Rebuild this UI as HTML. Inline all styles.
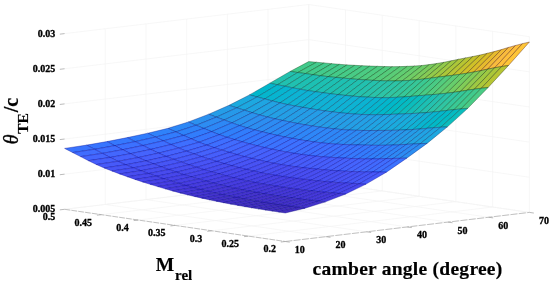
<!DOCTYPE html><html><head><meta charset="utf-8"><title>surface</title><style>html,body{margin:0;padding:0;background:#fff}svg{display:block}text{font-family:"Liberation Serif",serif;font-weight:bold;fill:#000;stroke:#000;stroke-width:0.32px}</style></head><body>
<svg width="550" height="286" viewBox="0 0 550 286">
<rect width="550" height="286" fill="#fff"/>
<line x1="529.40" y1="212.40" x2="529.40" y2="36.70" stroke="#f4f4f4" stroke-width="0.70"/>
<line x1="64.60" y1="209.30" x2="285.30" y2="241.50" stroke="#f4f4f4" stroke-width="0.70"/>
<line x1="64.60" y1="209.30" x2="308.70" y2="180.20" stroke="#f4f4f4" stroke-width="0.70"/>
<line x1="105.28" y1="204.45" x2="105.28" y2="28.75" stroke="#f4f4f4" stroke-width="0.70"/>
<line x1="492.62" y1="207.03" x2="492.62" y2="31.33" stroke="#f4f4f4" stroke-width="0.70"/>
<line x1="105.28" y1="204.45" x2="325.98" y2="236.65" stroke="#f4f4f4" stroke-width="0.70"/>
<line x1="101.38" y1="214.67" x2="345.48" y2="185.57" stroke="#f4f4f4" stroke-width="0.70"/>
<line x1="145.97" y1="199.60" x2="145.97" y2="23.90" stroke="#f4f4f4" stroke-width="0.70"/>
<line x1="455.83" y1="201.67" x2="455.83" y2="25.97" stroke="#f4f4f4" stroke-width="0.70"/>
<line x1="145.97" y1="199.60" x2="366.67" y2="231.80" stroke="#f4f4f4" stroke-width="0.70"/>
<line x1="138.17" y1="220.03" x2="382.27" y2="190.93" stroke="#f4f4f4" stroke-width="0.70"/>
<line x1="186.65" y1="194.75" x2="186.65" y2="19.05" stroke="#f4f4f4" stroke-width="0.70"/>
<line x1="419.05" y1="196.30" x2="419.05" y2="20.60" stroke="#f4f4f4" stroke-width="0.70"/>
<line x1="186.65" y1="194.75" x2="407.35" y2="226.95" stroke="#f4f4f4" stroke-width="0.70"/>
<line x1="174.95" y1="225.40" x2="419.05" y2="196.30" stroke="#f4f4f4" stroke-width="0.70"/>
<line x1="227.33" y1="189.90" x2="227.33" y2="14.20" stroke="#f4f4f4" stroke-width="0.70"/>
<line x1="382.27" y1="190.93" x2="382.27" y2="15.23" stroke="#f4f4f4" stroke-width="0.70"/>
<line x1="227.33" y1="189.90" x2="448.03" y2="222.10" stroke="#f4f4f4" stroke-width="0.70"/>
<line x1="211.73" y1="230.77" x2="455.83" y2="201.67" stroke="#f4f4f4" stroke-width="0.70"/>
<line x1="268.02" y1="185.05" x2="268.02" y2="9.35" stroke="#f4f4f4" stroke-width="0.70"/>
<line x1="345.48" y1="185.57" x2="345.48" y2="9.87" stroke="#f4f4f4" stroke-width="0.70"/>
<line x1="268.02" y1="185.05" x2="488.72" y2="217.25" stroke="#f4f4f4" stroke-width="0.70"/>
<line x1="248.52" y1="236.13" x2="492.62" y2="207.03" stroke="#f4f4f4" stroke-width="0.70"/>
<line x1="308.70" y1="180.20" x2="308.70" y2="4.50" stroke="#f4f4f4" stroke-width="0.70"/>
<line x1="308.70" y1="180.20" x2="308.70" y2="4.50" stroke="#f4f4f4" stroke-width="0.70"/>
<line x1="308.70" y1="180.20" x2="529.40" y2="212.40" stroke="#f4f4f4" stroke-width="0.70"/>
<line x1="285.30" y1="241.50" x2="529.40" y2="212.40" stroke="#f4f4f4" stroke-width="0.70"/>
<line x1="64.60" y1="209.30" x2="308.70" y2="180.20" stroke="#f4f4f4" stroke-width="0.70"/>
<line x1="308.70" y1="180.20" x2="529.40" y2="212.40" stroke="#f4f4f4" stroke-width="0.70"/>
<line x1="64.60" y1="174.16" x2="308.70" y2="145.06" stroke="#f4f4f4" stroke-width="0.70"/>
<line x1="308.70" y1="145.06" x2="529.40" y2="177.26" stroke="#f4f4f4" stroke-width="0.70"/>
<line x1="64.60" y1="139.02" x2="308.70" y2="109.92" stroke="#f4f4f4" stroke-width="0.70"/>
<line x1="308.70" y1="109.92" x2="529.40" y2="142.12" stroke="#f4f4f4" stroke-width="0.70"/>
<line x1="64.60" y1="103.88" x2="308.70" y2="74.78" stroke="#f4f4f4" stroke-width="0.70"/>
<line x1="308.70" y1="74.78" x2="529.40" y2="106.98" stroke="#f4f4f4" stroke-width="0.70"/>
<line x1="64.60" y1="68.74" x2="308.70" y2="39.64" stroke="#f4f4f4" stroke-width="0.70"/>
<line x1="308.70" y1="39.64" x2="529.40" y2="71.84" stroke="#f4f4f4" stroke-width="0.70"/>
<line x1="64.60" y1="33.60" x2="308.70" y2="4.50" stroke="#f4f4f4" stroke-width="0.70"/>
<line x1="308.70" y1="4.50" x2="529.40" y2="36.70" stroke="#f4f4f4" stroke-width="0.70"/>
<line x1="64.60" y1="209.30" x2="285.30" y2="241.50" stroke="#b4b4b4" stroke-width="0.80" stroke-dasharray="5.7 1.2"/>
<line x1="285.30" y1="241.50" x2="529.40" y2="212.40" stroke="#b4b4b4" stroke-width="0.80" stroke-dasharray="7 1.4"/>
<g stroke-opacity="0.6" stroke-width="0.58" stroke-linejoin="round">
<polygon points="290.07,71.48 308.70,61.60 316.44,62.25 297.75,72.52" fill="#41ca8c" stroke="#003000"/>
<polygon points="297.75,72.52 316.44,62.25 324.16,62.93 305.41,73.58" fill="#41ca8c" stroke="#003000"/>
<polygon points="305.41,73.58 324.16,62.93 331.85,63.66 313.04,74.70" fill="#41ca8c" stroke="#003000"/>
<polygon points="313.04,74.70 331.85,63.66 339.51,64.34 320.65,75.76" fill="#42ca8c" stroke="#003000"/>
<polygon points="320.65,75.76 339.51,64.34 347.15,64.88 328.22,76.67" fill="#43ca8b" stroke="#003000"/>
<polygon points="328.22,76.67 347.15,64.88 354.76,65.33 335.77,77.44" fill="#44cb89" stroke="#003000"/>
<polygon points="335.77,77.44 354.76,65.33 362.34,65.72 343.29,78.17" fill="#46cb88" stroke="#002f00"/>
<polygon points="343.29,78.17 362.34,65.72 369.90,66.06 350.78,78.84" fill="#48cb86" stroke="#002f00"/>
<polygon points="350.78,78.84 369.90,66.06 377.43,66.34 358.24,79.45" fill="#4bcb84" stroke="#002f00"/>
<polygon points="358.24,79.45 377.43,66.34 384.93,66.53 365.67,79.98" fill="#4ecc81" stroke="#002e00"/>
<polygon points="365.67,79.98 384.93,66.53 392.41,66.63 373.08,80.42" fill="#51cc7f" stroke="#002d00"/>
<polygon points="373.08,80.42 392.41,66.63 399.86,66.61 380.46,80.74" fill="#55cc7b" stroke="#002d00"/>
<polygon points="380.46,80.74 399.86,66.61 407.28,66.35 387.81,80.86" fill="#5acc77" stroke="#002c00"/>
<polygon points="387.81,80.86 407.28,66.35 414.68,66.00 395.13,80.91" fill="#60cd72" stroke="#002b00"/>
<polygon points="395.13,80.91 414.68,66.00 422.05,65.47 402.42,80.78" fill="#67cd6d" stroke="#002900"/>
<polygon points="402.42,80.78 422.05,65.47 429.39,64.59 409.69,80.35" fill="#6fcd66" stroke="#002800"/>
<polygon points="409.69,80.35 429.39,64.59 436.71,63.49 416.93,79.73" fill="#7acc5e" stroke="#002500"/>
<polygon points="416.93,79.73 436.71,63.49 444.00,62.26 424.13,78.99" fill="#86cb55" stroke="#002200"/>
<polygon points="424.13,78.99 444.00,62.26 451.26,60.80 431.32,78.05" fill="#92ca4b" stroke="#001f00"/>
<polygon points="431.32,78.05 451.26,60.80 458.50,59.29 438.47,77.07" fill="#9fc941" stroke="#001c00"/>
<polygon points="438.47,77.07 458.50,59.29 465.71,57.88 445.59,76.19" fill="#acc739" stroke="#001800"/>
<polygon points="445.59,76.19 465.71,57.88 472.89,56.51 452.69,75.33" fill="#b7c532" stroke="#071500"/>
<polygon points="452.69,75.33 472.89,56.51 480.05,55.02 459.76,74.37" fill="#c3c22b" stroke="#111100"/>
<polygon points="459.76,74.37 480.05,55.02 487.18,53.36 466.80,73.26" fill="#cec028" stroke="#1b0d00"/>
<polygon points="466.80,73.26 487.18,53.36 494.28,51.55 473.81,72.03" fill="#dabd28" stroke="#250800"/>
<polygon points="473.81,72.03 494.28,51.55 501.36,49.61 480.79,70.68" fill="#e5bb2d" stroke="#2e0400"/>
<polygon points="480.79,70.68 501.36,49.61 508.41,47.42 487.75,69.14" fill="#f0ba36" stroke="#350000"/>
<polygon points="487.75,69.14 508.41,47.42 515.43,45.47 494.68,67.79" fill="#f9bb3d" stroke="#3a0000"/>
<polygon points="494.68,67.79 515.43,45.47 522.43,43.65 501.58,66.57" fill="#febf3b" stroke="#3b0000"/>
<polygon points="501.58,66.57 522.43,43.65 529.40,42.00 508.45,65.50" fill="#fec537" stroke="#380000"/>
<polygon points="269.73,83.26 290.07,71.48 297.75,72.52 277.43,84.77" fill="#23c1af" stroke="#00311f"/>
<polygon points="277.43,84.77 297.75,72.52 305.41,73.58 285.11,86.29" fill="#21c1b0" stroke="#003221"/>
<polygon points="285.11,86.29 305.41,73.58 313.04,74.70 292.76,87.85" fill="#20c1b1" stroke="#003222"/>
<polygon points="292.76,87.85 313.04,74.70 320.65,75.76 300.38,89.34" fill="#1ec0b2" stroke="#003224"/>
<polygon points="300.38,89.34 320.65,75.76 328.22,76.67 307.97,90.62" fill="#1dc0b3" stroke="#003225"/>
<polygon points="307.97,90.62 328.22,76.67 335.77,77.44 315.53,91.73" fill="#1dc0b3" stroke="#003225"/>
<polygon points="315.53,91.73 335.77,77.44 343.29,78.17 323.07,92.76" fill="#1dc0b3" stroke="#003225"/>
<polygon points="323.07,92.76 343.29,78.17 350.78,78.84 330.57,93.74" fill="#1ec0b2" stroke="#003224"/>
<polygon points="330.57,93.74 350.78,78.84 358.24,79.45 338.04,94.65" fill="#1fc0b1" stroke="#003223"/>
<polygon points="338.04,94.65 358.24,79.45 365.67,79.98 345.48,95.46" fill="#21c1b1" stroke="#003222"/>
<polygon points="345.48,95.46 365.67,79.98 373.08,80.42 352.89,96.17" fill="#22c1af" stroke="#003120"/>
<polygon points="352.89,96.17 373.08,80.42 380.46,80.74 360.28,96.77" fill="#24c2ae" stroke="#00311e"/>
<polygon points="360.28,96.77 380.46,80.74 387.81,80.86 367.63,97.19" fill="#27c2ac" stroke="#00311b"/>
<polygon points="367.63,97.19 387.81,80.86 395.13,80.91 374.95,97.53" fill="#29c3aa" stroke="#003117"/>
<polygon points="374.95,97.53 395.13,80.91 402.42,80.78 382.25,97.71" fill="#2cc4a7" stroke="#003114"/>
<polygon points="382.25,97.71 402.42,80.78 409.69,80.35 389.51,97.61" fill="#2fc5a3" stroke="#00310f"/>
<polygon points="389.51,97.61 409.69,80.35 416.93,79.73 396.75,97.34" fill="#32c69f" stroke="#003109"/>
<polygon points="396.75,97.34 416.93,79.73 424.13,78.99 403.95,96.95" fill="#36c799" stroke="#003103"/>
<polygon points="403.95,96.95 424.13,78.99 431.32,78.05 411.13,96.38" fill="#3ac993" stroke="#003100"/>
<polygon points="411.13,96.38 431.32,78.05 438.47,77.07 418.27,95.76" fill="#41ca8c" stroke="#003000"/>
<polygon points="418.27,95.76 438.47,77.07 445.59,76.19 425.39,95.21" fill="#49cb85" stroke="#002f00"/>
<polygon points="425.39,95.21 445.59,76.19 452.69,75.33 432.48,94.67" fill="#52cc7e" stroke="#002d00"/>
<polygon points="432.48,94.67 452.69,75.33 459.76,74.37 439.53,94.04" fill="#5ccc76" stroke="#002b00"/>
<polygon points="439.53,94.04 459.76,74.37 466.80,73.26 446.56,93.26" fill="#67cd6c" stroke="#002900"/>
<polygon points="446.56,93.26 466.80,73.26 473.81,72.03 453.56,92.38" fill="#73cd62" stroke="#002700"/>
<polygon points="453.56,92.38 473.81,72.03 480.79,70.68 460.53,91.38" fill="#81cc58" stroke="#002300"/>
<polygon points="460.53,91.38 480.79,70.68 487.75,69.14 467.47,90.21" fill="#90ca4d" stroke="#002000"/>
<polygon points="467.47,90.21 487.75,69.14 494.68,67.79 474.38,89.20" fill="#9ec942" stroke="#001c00"/>
<polygon points="474.38,89.20 494.68,67.79 501.58,66.57 481.26,88.29" fill="#abc739" stroke="#001900"/>
<polygon points="481.26,88.29 501.58,66.57 508.45,65.50 488.11,87.49" fill="#b6c532" stroke="#061500"/>
<polygon points="249.38,94.95 269.73,83.26 277.43,84.77 257.11,96.97" fill="#02b7cb" stroke="#003448"/>
<polygon points="257.11,96.97 277.43,84.77 285.11,86.29 264.81,98.97" fill="#05b6cd" stroke="#00324a"/>
<polygon points="264.81,98.97 285.11,86.29 292.76,87.85 272.48,101.00" fill="#07b5d0" stroke="#00314c"/>
<polygon points="272.48,101.00 292.76,87.85 300.38,89.34 280.12,102.93" fill="#0ab4d2" stroke="#002f4d"/>
<polygon points="280.12,102.93 300.38,89.34 307.97,90.62 287.72,104.59" fill="#0db3d3" stroke="#002e4e"/>
<polygon points="287.72,104.59 307.97,90.62 315.53,91.73 295.30,106.04" fill="#0eb2d4" stroke="#002d4f"/>
<polygon points="295.30,106.04 315.53,91.73 323.07,92.76 302.84,107.39" fill="#0fb2d5" stroke="#002d4f"/>
<polygon points="302.84,107.39 323.07,92.76 330.57,93.74 310.36,108.68" fill="#10b2d5" stroke="#002c50"/>
<polygon points="310.36,108.68 330.57,93.74 338.04,94.65 317.84,109.87" fill="#10b2d5" stroke="#002c50"/>
<polygon points="317.84,109.87 338.04,94.65 345.48,95.46 325.29,110.96" fill="#10b2d5" stroke="#002c50"/>
<polygon points="325.29,110.96 345.48,95.46 352.89,96.17 332.71,111.93" fill="#10b2d5" stroke="#002d4f"/>
<polygon points="332.71,111.93 352.89,96.17 360.28,96.77 340.09,112.78" fill="#0fb2d4" stroke="#002d4f"/>
<polygon points="340.09,112.78 360.28,96.77 367.63,97.19 347.45,113.47" fill="#0db3d3" stroke="#002e4e"/>
<polygon points="347.45,113.47 367.63,97.19 374.95,97.53 354.78,114.08" fill="#0bb3d2" stroke="#002f4d"/>
<polygon points="354.78,114.08 374.95,97.53 382.25,97.71 362.07,114.53" fill="#08b4d1" stroke="#00304c"/>
<polygon points="362.07,114.53 382.25,97.71 389.51,97.61 369.34,114.73" fill="#06b5ce" stroke="#00324b"/>
<polygon points="369.34,114.73 389.51,97.61 396.75,97.34 376.57,114.76" fill="#03b7cc" stroke="#003348"/>
<polygon points="376.57,114.76 396.75,97.34 403.95,96.95 383.77,114.66" fill="#01b8c9" stroke="#003545"/>
<polygon points="383.77,114.66 403.95,96.95 411.13,96.38 390.94,114.41" fill="#02bac5" stroke="#003641"/>
<polygon points="390.94,114.41 411.13,96.38 418.27,95.76 398.08,114.10" fill="#05bbc1" stroke="#00363b"/>
<polygon points="398.08,114.10 418.27,95.76 425.39,95.21 405.19,113.82" fill="#0bbdbc" stroke="#003535"/>
<polygon points="405.19,113.82 425.39,95.21 432.48,94.67 412.27,113.54" fill="#14beb8" stroke="#00342e"/>
<polygon points="412.27,113.54 432.48,94.67 439.53,94.04 419.31,113.16" fill="#1cc0b4" stroke="#003226"/>
<polygon points="419.31,113.16 439.53,94.04 446.56,93.26 426.33,112.64" fill="#24c1af" stroke="#00311f"/>
<polygon points="426.33,112.64 446.56,93.26 453.56,92.38 433.31,112.03" fill="#2ac3a9" stroke="#003117"/>
<polygon points="433.31,112.03 453.56,92.38 460.53,91.38 440.26,111.31" fill="#2fc5a3" stroke="#00310f"/>
<polygon points="440.26,111.31 460.53,91.38 467.47,90.21 447.19,110.42" fill="#34c79c" stroke="#003106"/>
<polygon points="447.19,110.42 467.47,90.21 474.38,89.20 454.08,109.66" fill="#39c995" stroke="#003100"/>
<polygon points="454.08,109.66 474.38,89.20 481.26,88.29 460.94,108.97" fill="#40ca8d" stroke="#003000"/>
<polygon points="460.94,108.97 481.26,88.29 488.11,87.49 467.76,108.36" fill="#49cb86" stroke="#002f00"/>
<polygon points="229.04,105.30 249.38,94.95 257.11,96.97 236.79,107.80" fill="#1baade" stroke="#002559"/>
<polygon points="236.79,107.80 257.11,96.97 264.81,98.97 244.51,110.24" fill="#1da8e0" stroke="#00235b"/>
<polygon points="244.51,110.24 264.81,98.97 272.48,101.00 252.20,112.69" fill="#1fa5e2" stroke="#00215e"/>
<polygon points="252.20,112.69 272.48,101.00 280.12,102.93 259.85,115.03" fill="#21a3e3" stroke="#002060"/>
<polygon points="259.85,115.03 280.12,102.93 287.72,104.59 267.47,117.05" fill="#22a1e4" stroke="#001e61"/>
<polygon points="267.47,117.05 287.72,104.59 295.30,106.04 275.06,118.82" fill="#23a0e5" stroke="#001d62"/>
<polygon points="275.06,118.82 295.30,106.04 302.84,107.39 282.62,120.46" fill="#249fe5" stroke="#001d63"/>
<polygon points="282.62,120.46 302.84,107.39 310.36,108.68 290.14,122.03" fill="#249ee6" stroke="#001c64"/>
<polygon points="290.14,122.03 310.36,108.68 317.84,109.87 297.63,123.49" fill="#249de6" stroke="#001c65"/>
<polygon points="297.63,123.49 317.84,109.87 325.29,110.96 305.09,124.82" fill="#259de7" stroke="#001c65"/>
<polygon points="305.09,124.82 325.29,110.96 332.71,111.93 312.52,126.03" fill="#259de7" stroke="#001b66"/>
<polygon points="312.52,126.03 332.71,111.93 340.09,112.78 319.91,127.11" fill="#259de7" stroke="#001b66"/>
<polygon points="319.91,127.11 340.09,112.78 347.45,113.47 327.27,128.04" fill="#259de7" stroke="#001c65"/>
<polygon points="327.27,128.04 347.45,113.47 354.78,114.08 334.60,128.89" fill="#249de6" stroke="#001c65"/>
<polygon points="334.60,128.89 354.78,114.08 362.07,114.53 341.90,129.58" fill="#249ee6" stroke="#001c64"/>
<polygon points="341.90,129.58 362.07,114.53 369.34,114.73 349.16,130.03" fill="#249fe5" stroke="#001d63"/>
<polygon points="349.16,130.03 369.34,114.73 376.57,114.76 356.39,130.33" fill="#23a1e5" stroke="#001e62"/>
<polygon points="356.39,130.33 376.57,114.76 383.77,114.66 363.59,130.49" fill="#21a2e4" stroke="#001f60"/>
<polygon points="363.59,130.49 383.77,114.66 390.94,114.41 370.75,130.51" fill="#20a5e3" stroke="#00215f"/>
<polygon points="370.75,130.51 390.94,114.41 398.08,114.10 377.89,130.46" fill="#1ea7e1" stroke="#00225c"/>
<polygon points="377.89,130.46 398.08,114.10 405.19,113.82 384.99,130.41" fill="#1ca9e0" stroke="#00245a"/>
<polygon points="384.99,130.41 405.19,113.82 412.27,113.54 392.05,130.35" fill="#1aabdd" stroke="#002658"/>
<polygon points="392.05,130.35 412.27,113.54 419.31,113.16 399.09,130.18" fill="#18addb" stroke="#002755"/>
<polygon points="399.09,130.18 419.31,113.16 426.33,112.64 406.09,129.89" fill="#14b0d8" stroke="#002a52"/>
<polygon points="406.09,129.89 426.33,112.64 433.31,112.03 413.06,129.49" fill="#0fb2d4" stroke="#002d4f"/>
<polygon points="413.06,129.49 433.31,112.03 440.26,111.31 420.00,128.99" fill="#08b5d0" stroke="#00304c"/>
<polygon points="420.00,128.99 440.26,111.31 447.19,110.42 426.90,128.35" fill="#03b7cb" stroke="#003448"/>
<polygon points="426.90,128.35 447.19,110.42 454.08,109.66 433.78,127.79" fill="#01b9c7" stroke="#003543"/>
<polygon points="433.78,127.79 454.08,109.66 460.94,108.97 440.62,127.28" fill="#04bbc2" stroke="#00363d"/>
<polygon points="440.62,127.28 460.94,108.97 467.76,108.36 447.42,126.82" fill="#0abdbd" stroke="#003535"/>
<polygon points="208.70,114.23 229.04,105.30 236.79,107.80 216.47,117.16" fill="#259de7" stroke="#001c65"/>
<polygon points="216.47,117.16 236.79,107.80 244.51,110.24 224.21,120.01" fill="#2699e9" stroke="#001969"/>
<polygon points="224.21,120.01 244.51,110.24 252.20,112.69 231.92,122.85" fill="#2896eb" stroke="#00176c"/>
<polygon points="231.92,122.85 252.20,112.69 259.85,115.03 239.59,125.56" fill="#2a93ee" stroke="#001570"/>
<polygon points="239.59,125.56 259.85,115.03 267.47,117.05 247.23,127.91" fill="#2c90f0" stroke="#001373"/>
<polygon points="247.23,127.91 267.47,117.05 275.06,118.82 254.83,129.97" fill="#2c8ef1" stroke="#001275"/>
<polygon points="254.83,129.97 275.06,118.82 282.62,120.46 262.40,131.88" fill="#2d8cf3" stroke="#001177"/>
<polygon points="262.40,131.88 282.62,120.46 290.14,122.03 269.93,133.71" fill="#2d8bf4" stroke="#001079"/>
<polygon points="269.93,133.71 290.14,122.03 297.63,123.49 277.43,135.42" fill="#2d89f5" stroke="#000f7b"/>
<polygon points="277.43,135.42 297.63,123.49 305.09,124.82 284.90,136.99" fill="#2d88f6" stroke="#000f7c"/>
<polygon points="284.90,136.99 305.09,124.82 312.52,126.03 292.33,138.42" fill="#2e87f7" stroke="#000e7d"/>
<polygon points="292.33,138.42 312.52,126.03 319.91,127.11 299.73,139.72" fill="#2e87f7" stroke="#000e7e"/>
<polygon points="299.73,139.72 319.91,127.11 327.27,128.04 307.10,140.88" fill="#2e87f7" stroke="#000e7e"/>
<polygon points="307.10,140.88 327.27,128.04 334.60,128.89 314.43,141.96" fill="#2e87f7" stroke="#000e7e"/>
<polygon points="314.43,141.96 334.60,128.89 341.90,129.58 321.72,142.87" fill="#2e87f7" stroke="#000e7e"/>
<polygon points="321.72,142.87 341.90,129.58 349.16,130.03 328.98,143.57" fill="#2d87f6" stroke="#000e7d"/>
<polygon points="328.98,143.57 349.16,130.03 356.39,130.33 336.21,144.11" fill="#2d89f6" stroke="#000f7c"/>
<polygon points="336.21,144.11 356.39,130.33 363.59,130.49 343.41,144.52" fill="#2d8af4" stroke="#00107a"/>
<polygon points="343.41,144.52 363.59,130.49 370.75,130.51 350.57,144.79" fill="#2d8cf3" stroke="#001178"/>
<polygon points="350.57,144.79 370.75,130.51 377.89,130.46 357.69,144.98" fill="#2c8ef1" stroke="#001275"/>
<polygon points="357.69,144.98 377.89,130.46 384.99,130.41 364.79,145.16" fill="#2c90f0" stroke="#001373"/>
<polygon points="364.79,145.16 384.99,130.41 392.05,130.35 371.84,145.30" fill="#2b92ee" stroke="#001470"/>
<polygon points="371.84,145.30 392.05,130.35 399.09,130.18 378.87,145.35" fill="#2994ed" stroke="#00166e"/>
<polygon points="378.87,145.35 399.09,130.18 406.09,129.89 385.86,145.26" fill="#2797eb" stroke="#00186c"/>
<polygon points="385.86,145.26 406.09,129.89 413.06,129.49 392.81,145.08" fill="#269ae9" stroke="#001a69"/>
<polygon points="392.81,145.08 413.06,129.49 420.00,128.99 399.73,144.80" fill="#259ce7" stroke="#001b66"/>
<polygon points="399.73,144.80 420.00,128.99 426.90,128.35 406.62,144.39" fill="#23a0e5" stroke="#001d63"/>
<polygon points="406.62,144.39 426.90,128.35 433.78,127.79 413.48,144.03" fill="#21a3e4" stroke="#001f60"/>
<polygon points="413.48,144.03 433.78,127.79 440.62,127.28 420.30,143.70" fill="#1fa6e2" stroke="#00215e"/>
<polygon points="420.30,143.70 440.62,127.28 447.42,126.82 427.08,143.39" fill="#1da8e0" stroke="#00235b"/>
<polygon points="188.36,121.97 208.70,114.23 216.47,117.16 196.15,125.27" fill="#2b91ef" stroke="#001472"/>
<polygon points="196.15,125.27 216.47,117.16 224.21,120.01 203.91,128.47" fill="#2d8df2" stroke="#001177"/>
<polygon points="203.91,128.47 224.21,120.01 231.92,122.85 211.64,131.65" fill="#2d88f6" stroke="#000f7c"/>
<polygon points="211.64,131.65 231.92,122.85 239.59,125.56 219.32,134.69" fill="#2e84f8" stroke="#000c81"/>
<polygon points="219.32,134.69 239.59,125.56 247.23,127.91 226.98,137.32" fill="#2f80fa" stroke="#000a84"/>
<polygon points="226.98,137.32 247.23,127.91 254.83,129.97 234.59,139.64" fill="#317dfc" stroke="#000886"/>
<polygon points="234.59,139.64 254.83,129.97 262.40,131.88 242.18,141.80" fill="#337bfd" stroke="#000788"/>
<polygon points="242.18,141.80 262.40,131.88 269.93,133.71 249.72,143.87" fill="#3578fd" stroke="#00058a"/>
<polygon points="249.72,143.87 269.93,133.71 277.43,135.42 257.23,145.81" fill="#3876fe" stroke="#00038b"/>
<polygon points="257.23,145.81 277.43,135.42 284.90,136.99 264.71,147.59" fill="#3974fe" stroke="#00028c"/>
<polygon points="264.71,147.59 284.90,136.99 292.33,138.42 272.15,149.23" fill="#3b73fe" stroke="#00018c"/>
<polygon points="272.15,149.23 292.33,138.42 299.73,139.72 279.55,150.73" fill="#3c71ff" stroke="#00008d"/>
<polygon points="279.55,150.73 299.73,139.72 307.10,140.88 286.92,152.10" fill="#3d71ff" stroke="#00008d"/>
<polygon points="286.92,152.10 307.10,140.88 314.43,141.96 294.25,153.38" fill="#3d70ff" stroke="#00008d"/>
<polygon points="294.25,153.38 314.43,141.96 321.72,142.87 301.55,154.51" fill="#3e70ff" stroke="#00008e"/>
<polygon points="301.55,154.51 321.72,142.87 328.98,143.57 308.81,155.42" fill="#3d70ff" stroke="#00008d"/>
<polygon points="308.81,155.42 328.98,143.57 336.21,144.11 316.04,156.20" fill="#3d71ff" stroke="#00008d"/>
<polygon points="316.04,156.20 336.21,144.11 343.41,144.52 323.23,156.84" fill="#3c72ff" stroke="#00008d"/>
<polygon points="323.23,156.84 343.41,144.52 350.57,144.79 330.38,157.34" fill="#3a73fe" stroke="#00018c"/>
<polygon points="330.38,157.34 350.57,144.79 357.69,144.98 337.50,157.76" fill="#3975fe" stroke="#00028c"/>
<polygon points="337.50,157.76 357.69,144.98 364.79,145.16 344.58,158.15" fill="#3777fe" stroke="#00048b"/>
<polygon points="344.58,158.15 364.79,145.16 371.84,145.30 351.63,158.49" fill="#3579fd" stroke="#00058a"/>
<polygon points="351.63,158.49 371.84,145.30 378.87,145.35 358.65,158.74" fill="#337bfc" stroke="#000788"/>
<polygon points="358.65,158.74 378.87,145.35 385.86,145.26 365.62,158.85" fill="#317dfb" stroke="#000886"/>
<polygon points="365.62,158.85 385.86,145.26 392.81,145.08 372.56,158.88" fill="#3080fa" stroke="#000a84"/>
<polygon points="372.56,158.88 392.81,145.08 399.73,144.80 379.47,158.82" fill="#2e83f9" stroke="#000c82"/>
<polygon points="379.47,158.82 399.73,144.80 406.62,144.39 386.34,158.63" fill="#2e86f7" stroke="#000d7f"/>
<polygon points="386.34,158.63 406.62,144.39 413.48,144.03 393.18,158.47" fill="#2d89f5" stroke="#000f7b"/>
<polygon points="393.18,158.47 413.48,144.03 420.30,143.70 399.98,158.32" fill="#2d8cf3" stroke="#001178"/>
<polygon points="399.98,158.32 420.30,143.70 427.08,143.39 406.74,158.18" fill="#2c8ff1" stroke="#001274"/>
<polygon points="168.02,128.32 188.36,121.97 196.15,125.27 175.83,131.93" fill="#2d88f6" stroke="#000e7d"/>
<polygon points="175.83,131.93 196.15,125.27 203.91,128.47 183.61,135.44" fill="#2e83f9" stroke="#000c82"/>
<polygon points="183.61,135.44 203.91,128.47 211.64,131.65 191.35,138.92" fill="#317dfc" stroke="#000887"/>
<polygon points="191.35,138.92 211.64,131.65 219.32,134.69 199.06,142.25" fill="#3678fe" stroke="#00048a"/>
<polygon points="199.06,142.25 219.32,134.69 226.98,137.32 206.73,145.15" fill="#3b73fe" stroke="#00018c"/>
<polygon points="206.73,145.15 226.98,137.32 234.59,139.64 214.36,147.71" fill="#3e6fff" stroke="#00008e"/>
<polygon points="214.36,147.71 234.59,139.64 242.18,141.80 221.95,150.11" fill="#416cfe" stroke="#00008f"/>
<polygon points="221.95,150.11 242.18,141.80 249.72,143.87 229.51,152.41" fill="#4269fe" stroke="#00008f"/>
<polygon points="229.51,152.41 249.72,143.87 257.23,145.81 237.03,154.58" fill="#4466fd" stroke="#000090"/>
<polygon points="237.03,154.58 257.23,145.81 264.71,147.59 244.51,156.59" fill="#4564fd" stroke="#000091"/>
<polygon points="244.51,156.59 264.71,147.59 272.15,149.23 251.96,158.44" fill="#4562fc" stroke="#000091"/>
<polygon points="251.96,158.44 272.15,149.23 279.55,150.73 259.37,160.15" fill="#4660fc" stroke="#000092"/>
<polygon points="259.37,160.15 279.55,150.73 286.92,152.10 266.74,161.75" fill="#465ffb" stroke="#000092"/>
<polygon points="266.74,161.75 286.92,152.10 294.25,153.38 274.07,163.27" fill="#465efb" stroke="#000092"/>
<polygon points="274.07,163.27 294.25,153.38 301.55,154.51 281.37,164.62" fill="#465dfa" stroke="#000092"/>
<polygon points="281.37,164.62 301.55,154.51 308.81,155.42 288.63,165.78" fill="#475cfa" stroke="#000092"/>
<polygon points="288.63,165.78 308.81,155.42 316.04,156.20 295.86,166.81" fill="#475cfa" stroke="#000092"/>
<polygon points="295.86,166.81 316.04,156.20 323.23,156.84 303.04,167.70" fill="#465dfa" stroke="#000092"/>
<polygon points="303.04,167.70 323.23,156.84 330.38,157.34 310.19,168.47" fill="#465dfb" stroke="#000092"/>
<polygon points="310.19,168.47 330.38,157.34 337.50,157.76 317.31,169.16" fill="#465efb" stroke="#000092"/>
<polygon points="317.31,169.16 337.50,157.76 344.58,158.15 324.38,169.80" fill="#465ffb" stroke="#000092"/>
<polygon points="324.38,169.80 344.58,158.15 351.63,158.49 331.42,170.38" fill="#4661fc" stroke="#000091"/>
<polygon points="331.42,170.38 351.63,158.49 358.65,158.74 338.42,170.88" fill="#4562fc" stroke="#000091"/>
<polygon points="338.42,170.88 358.65,158.74 365.62,158.85 345.39,171.25" fill="#4564fd" stroke="#000091"/>
<polygon points="345.39,171.25 365.62,158.85 372.56,158.88 352.32,171.55" fill="#4466fd" stroke="#000090"/>
<polygon points="352.32,171.55 372.56,158.88 379.47,158.82 359.21,171.75" fill="#4368fe" stroke="#000090"/>
<polygon points="359.21,171.75 379.47,158.82 386.34,158.63 366.06,171.85" fill="#416afe" stroke="#00008f"/>
<polygon points="366.06,171.85 386.34,158.63 393.18,158.47 372.88,171.96" fill="#406dfe" stroke="#00008e"/>
<polygon points="372.88,171.96 393.18,158.47 399.98,158.32 379.66,172.06" fill="#3e70ff" stroke="#00008e"/>
<polygon points="379.66,172.06 399.98,158.32 406.74,158.18 386.40,172.16" fill="#3b72fe" stroke="#00018d"/>
<polygon points="147.68,133.22 168.02,128.32 175.83,131.93 155.51,137.07" fill="#2f82fa" stroke="#000b83"/>
<polygon points="155.51,137.07 175.83,131.93 183.61,135.44 163.31,140.81" fill="#327cfc" stroke="#000788"/>
<polygon points="163.31,140.81 183.61,135.44 191.35,138.92 171.07,144.53" fill="#3875fe" stroke="#00038c"/>
<polygon points="171.07,144.53 191.35,138.92 199.06,142.25 178.79,148.09" fill="#3e6fff" stroke="#00008e"/>
<polygon points="178.79,148.09 199.06,142.25 206.73,145.15 186.48,151.20" fill="#426afe" stroke="#00008f"/>
<polygon points="186.48,151.20 206.73,145.15 214.36,147.71 194.12,153.98" fill="#4466fd" stroke="#000090"/>
<polygon points="194.12,153.98 214.36,147.71 221.95,150.11 201.73,156.58" fill="#4562fc" stroke="#000091"/>
<polygon points="201.73,156.58 221.95,150.11 229.51,152.41 209.30,159.08" fill="#465ffb" stroke="#000092"/>
<polygon points="209.30,159.08 229.51,152.41 237.03,154.58 216.83,161.45" fill="#475cfa" stroke="#000092"/>
<polygon points="216.83,161.45 237.03,154.58 244.51,156.59 224.32,163.66" fill="#4759f8" stroke="#000092"/>
<polygon points="224.32,163.66 244.51,156.59 251.96,158.44 231.77,165.70" fill="#4757f7" stroke="#000093"/>
<polygon points="231.77,165.70 251.96,158.44 259.37,160.15 239.19,167.62" fill="#4854f6" stroke="#000093"/>
<polygon points="239.19,167.62 259.37,160.15 266.74,161.75 246.56,169.42" fill="#4853f4" stroke="#000093"/>
<polygon points="246.56,169.42 266.74,161.75 274.07,163.27 253.90,171.15" fill="#4851f3" stroke="#000092"/>
<polygon points="253.90,171.15 274.07,163.27 281.37,164.62 261.20,172.73" fill="#4850f2" stroke="#000092"/>
<polygon points="261.20,172.73 281.37,164.62 288.63,165.78 268.46,174.12" fill="#484ff2" stroke="#000092"/>
<polygon points="268.46,174.12 288.63,165.78 295.86,166.81 275.68,175.38" fill="#484ef1" stroke="#000092"/>
<polygon points="275.68,175.38 295.86,166.81 303.04,167.70 282.86,176.52" fill="#484ef1" stroke="#000092"/>
<polygon points="282.86,176.52 303.04,167.70 310.19,168.47 290.01,177.54" fill="#484ef1" stroke="#000092"/>
<polygon points="290.01,177.54 310.19,168.47 317.31,169.16 297.11,178.49" fill="#484ef1" stroke="#000092"/>
<polygon points="297.11,178.49 317.31,169.16 324.38,169.80 304.18,179.37" fill="#484ef1" stroke="#000092"/>
<polygon points="304.18,179.37 324.38,169.80 331.42,170.38 311.21,180.20" fill="#484ff2" stroke="#000092"/>
<polygon points="311.21,180.20 331.42,170.38 338.42,170.88 318.20,180.95" fill="#4850f2" stroke="#000092"/>
<polygon points="318.20,180.95 338.42,170.88 345.39,171.25 325.15,181.58" fill="#4851f3" stroke="#000092"/>
<polygon points="325.15,181.58 345.39,171.25 352.32,171.55 332.07,182.14" fill="#4852f4" stroke="#000093"/>
<polygon points="332.07,182.14 352.32,171.55 359.21,171.75 338.94,182.62" fill="#4853f5" stroke="#000093"/>
<polygon points="338.94,182.62 359.21,171.75 366.06,171.85 345.78,183.01" fill="#4755f6" stroke="#000093"/>
<polygon points="345.78,183.01 366.06,171.85 372.88,171.96 352.58,183.40" fill="#4757f7" stroke="#000093"/>
<polygon points="352.58,183.40 372.88,171.96 379.66,172.06 359.34,183.77" fill="#4758f8" stroke="#000093"/>
<polygon points="359.34,183.77 379.66,172.06 386.40,172.16 366.06,184.12" fill="#475af9" stroke="#000092"/>
<polygon points="127.33,137.58 147.68,133.22 155.51,137.07 135.19,141.61" fill="#317dfc" stroke="#000887"/>
<polygon points="135.19,141.61 155.51,137.07 163.31,140.81 143.01,145.52" fill="#3876fe" stroke="#00038b"/>
<polygon points="143.01,145.52 163.31,140.81 171.07,144.53 150.79,149.42" fill="#3e6fff" stroke="#00008e"/>
<polygon points="150.79,149.42 171.07,144.53 178.79,148.09 158.53,153.14" fill="#4369fe" stroke="#00008f"/>
<polygon points="158.53,153.14 178.79,148.09 186.48,151.20 166.23,156.41" fill="#4563fd" stroke="#000091"/>
<polygon points="166.23,156.41 186.48,151.20 194.12,153.98 173.89,159.34" fill="#465ffb" stroke="#000092"/>
<polygon points="173.89,159.34 194.12,153.98 201.73,156.58 181.51,162.09" fill="#475bf9" stroke="#000092"/>
<polygon points="181.51,162.09 201.73,156.58 209.30,159.08 189.09,164.75" fill="#4757f7" stroke="#000093"/>
<polygon points="189.09,164.75 209.30,159.08 216.83,161.45 196.63,167.27" fill="#4854f5" stroke="#000093"/>
<polygon points="196.63,167.27 216.83,161.45 224.32,163.66 204.13,169.62" fill="#4851f3" stroke="#000092"/>
<polygon points="204.13,169.62 224.32,163.66 231.77,165.70 211.58,171.82" fill="#484ef1" stroke="#000092"/>
<polygon points="211.58,171.82 231.77,165.70 239.19,167.62 219.00,173.89" fill="#484cef" stroke="#000092"/>
<polygon points="219.00,173.89 239.19,167.62 246.56,169.42 226.38,175.86" fill="#4849ed" stroke="#000092"/>
<polygon points="226.38,175.86 246.56,169.42 253.90,171.15 233.72,177.75" fill="#4747eb" stroke="#000091"/>
<polygon points="233.72,177.75 253.90,171.15 261.20,172.73 241.02,179.49" fill="#4745ea" stroke="#000091"/>
<polygon points="241.02,179.49 261.20,172.73 268.46,174.12 248.28,181.07" fill="#4744e8" stroke="#000090"/>
<polygon points="248.28,181.07 268.46,174.12 275.68,175.38 255.50,182.52" fill="#4743e7" stroke="#000090"/>
<polygon points="255.50,182.52 275.68,175.38 282.86,176.52 262.68,183.85" fill="#4742e6" stroke="#000090"/>
<polygon points="262.68,183.85 282.86,176.52 290.01,177.54 269.82,185.07" fill="#4742e6" stroke="#000090"/>
<polygon points="269.82,185.07 290.01,177.54 297.11,178.49 276.92,186.22" fill="#4741e5" stroke="#000090"/>
<polygon points="276.92,186.22 297.11,178.49 304.18,179.37 283.98,187.30" fill="#4741e5" stroke="#000090"/>
<polygon points="283.98,187.30 304.18,179.37 311.21,180.20 291.00,188.33" fill="#4741e5" stroke="#000090"/>
<polygon points="291.00,188.33 311.21,180.20 318.20,180.95 297.98,189.28" fill="#4741e6" stroke="#000090"/>
<polygon points="297.98,189.28 318.20,180.95 325.15,181.58 304.92,190.12" fill="#4742e6" stroke="#000090"/>
<polygon points="304.92,190.12 325.15,181.58 332.07,182.14 311.82,190.90" fill="#4743e7" stroke="#000090"/>
<polygon points="311.82,190.90 332.07,182.14 338.94,182.62 318.68,191.60" fill="#4743e7" stroke="#000090"/>
<polygon points="318.68,191.60 338.94,182.62 345.78,183.01 325.50,192.22" fill="#4744e9" stroke="#000090"/>
<polygon points="325.50,192.22 345.78,183.01 352.58,183.40 332.28,192.83" fill="#4746ea" stroke="#000091"/>
<polygon points="332.28,192.83 352.58,183.40 359.34,183.77 339.02,193.42" fill="#4747eb" stroke="#000091"/>
<polygon points="339.02,193.42 359.34,183.77 366.06,184.12 345.71,193.99" fill="#4848ec" stroke="#000091"/>
<polygon points="106.99,141.54 127.33,137.58 135.19,141.61 114.87,145.67" fill="#3578fd" stroke="#00058a"/>
<polygon points="114.87,145.67 135.19,141.61 143.01,145.52 122.71,149.70" fill="#3c71ff" stroke="#00008d"/>
<polygon points="122.71,149.70 143.01,145.52 150.79,149.42 130.51,153.70" fill="#426afe" stroke="#00008f"/>
<polygon points="130.51,153.70 150.79,149.42 158.53,153.14 138.27,157.54" fill="#4564fd" stroke="#000091"/>
<polygon points="138.27,157.54 158.53,153.14 166.23,156.41 145.98,160.91" fill="#465efb" stroke="#000092"/>
<polygon points="145.98,160.91 166.23,156.41 173.89,159.34 153.65,163.93" fill="#475af9" stroke="#000092"/>
<polygon points="153.65,163.93 173.89,159.34 181.51,162.09 161.29,166.78" fill="#4756f6" stroke="#000093"/>
<polygon points="161.29,166.78 181.51,162.09 189.09,164.75 168.88,169.53" fill="#4852f4" stroke="#000093"/>
<polygon points="168.88,169.53 189.09,164.75 196.63,167.27 176.42,172.16" fill="#484ef1" stroke="#000092"/>
<polygon points="176.42,172.16 196.63,167.27 204.13,169.62 183.93,174.61" fill="#484bee" stroke="#000092"/>
<polygon points="183.93,174.61 204.13,169.62 211.58,171.82 191.40,176.91" fill="#4848ec" stroke="#000091"/>
<polygon points="191.40,176.91 211.58,171.82 219.00,173.89 198.82,179.08" fill="#4745e9" stroke="#000091"/>
<polygon points="198.82,179.08 219.00,173.89 226.38,175.86 206.21,181.16" fill="#4743e7" stroke="#000090"/>
<polygon points="206.21,181.16 226.38,175.86 233.72,177.75 213.55,183.17" fill="#4740e4" stroke="#00008f"/>
<polygon points="213.55,183.17 233.72,177.75 241.02,179.49 220.85,185.03" fill="#473ee1" stroke="#00008e"/>
<polygon points="220.85,185.03 241.02,179.49 248.28,181.07 228.11,186.73" fill="#463ddf" stroke="#00008d"/>
<polygon points="228.11,186.73 248.28,181.07 255.50,182.52 235.32,188.32" fill="#463bdd" stroke="#00008c"/>
<polygon points="235.32,188.32 255.50,182.52 262.68,183.85 242.50,189.79" fill="#463adc" stroke="#00008b"/>
<polygon points="242.50,189.79 262.68,183.85 269.82,185.07 249.63,191.17" fill="#463ada" stroke="#00008b"/>
<polygon points="249.63,191.17 269.82,185.07 276.92,186.22 256.73,192.46" fill="#4639d9" stroke="#00008a"/>
<polygon points="256.73,192.46 276.92,186.22 283.98,187.30 263.78,193.69" fill="#4539d8" stroke="#00008a"/>
<polygon points="263.78,193.69 283.98,187.30 291.00,188.33 270.79,194.87" fill="#4538d8" stroke="#000089"/>
<polygon points="270.79,194.87 291.00,188.33 297.98,189.28 277.76,195.97" fill="#4538d7" stroke="#000089"/>
<polygon points="277.76,195.97 297.98,189.28 304.92,190.12 284.68,196.96" fill="#4538d7" stroke="#000089"/>
<polygon points="284.68,196.96 304.92,190.12 311.82,190.90 291.57,197.91" fill="#4538d8" stroke="#000089"/>
<polygon points="291.57,197.91 311.82,190.90 318.68,191.60 298.41,198.78" fill="#4538d8" stroke="#00008a"/>
<polygon points="298.41,198.78 318.68,191.60 325.50,192.22 305.21,199.58" fill="#4639d9" stroke="#00008a"/>
<polygon points="305.21,199.58 325.50,192.22 332.28,192.83 311.98,200.37" fill="#463ada" stroke="#00008b"/>
<polygon points="311.98,200.37 332.28,192.83 339.02,193.42 318.69,201.13" fill="#463adb" stroke="#00008b"/>
<polygon points="318.69,201.13 339.02,193.42 345.71,193.99 325.37,201.86" fill="#463bdc" stroke="#00008c"/>
<polygon points="86.65,145.10 106.99,141.54 114.87,145.67 94.55,149.29" fill="#3875fe" stroke="#00038c"/>
<polygon points="94.55,149.29 114.87,145.67 122.71,149.70 102.41,153.36" fill="#3f6eff" stroke="#00008e"/>
<polygon points="102.41,153.36 122.71,149.70 130.51,153.70 110.23,157.43" fill="#4367fd" stroke="#000090"/>
<polygon points="110.23,157.43 130.51,153.70 138.27,157.54 118.00,161.32" fill="#4661fc" stroke="#000091"/>
<polygon points="118.00,161.32 138.27,157.54 145.98,160.91 125.73,164.74" fill="#475bf9" stroke="#000092"/>
<polygon points="125.73,164.74 145.98,160.91 153.65,163.93 133.42,167.81" fill="#4756f7" stroke="#000093"/>
<polygon points="133.42,167.81 153.65,163.93 161.29,166.78 141.06,170.71" fill="#4852f4" stroke="#000093"/>
<polygon points="141.06,170.71 161.29,166.78 168.88,169.53 148.66,173.52" fill="#484ef1" stroke="#000092"/>
<polygon points="148.66,173.52 168.88,169.53 176.42,172.16 156.22,176.21" fill="#484bee" stroke="#000092"/>
<polygon points="156.22,176.21 176.42,172.16 183.93,174.61 163.74,178.72" fill="#4747eb" stroke="#000091"/>
<polygon points="163.74,178.72 183.93,174.61 191.40,176.91 171.21,181.08" fill="#4744e8" stroke="#000090"/>
<polygon points="171.21,181.08 191.40,176.91 198.82,179.08 178.64,183.32" fill="#4741e5" stroke="#00008f"/>
<polygon points="178.64,183.32 198.82,179.08 206.21,181.16 186.03,185.48" fill="#473ee2" stroke="#00008e"/>
<polygon points="186.03,185.48 206.21,181.16 213.55,183.17 193.37,187.57" fill="#463cde" stroke="#00008d"/>
<polygon points="193.37,187.57 213.55,183.17 220.85,185.03 200.67,189.51" fill="#463adb" stroke="#00008b"/>
<polygon points="200.67,189.51 220.85,185.03 228.11,186.73 207.93,191.31" fill="#4538d8" stroke="#000089"/>
<polygon points="207.93,191.31 228.11,186.73 235.32,188.32 215.14,193.00" fill="#4537d5" stroke="#000088"/>
<polygon points="215.14,193.00 235.32,188.32 242.50,189.79 222.32,194.58" fill="#4536d3" stroke="#000087"/>
<polygon points="222.32,194.58 242.50,189.79 249.63,191.17 229.45,196.06" fill="#4435d1" stroke="#000085"/>
<polygon points="229.45,196.06 249.63,191.17 256.73,192.46 236.53,197.47" fill="#4434cf" stroke="#000084"/>
<polygon points="236.53,197.47 256.73,192.46 263.78,193.69 243.58,198.82" fill="#4433cd" stroke="#000083"/>
<polygon points="243.58,198.82 263.78,193.69 270.79,194.87 250.58,200.12" fill="#4433cc" stroke="#000082"/>
<polygon points="250.58,200.12 270.79,194.87 277.76,195.97 257.53,201.34" fill="#4432cb" stroke="#000082"/>
<polygon points="257.53,201.34 277.76,195.97 284.68,196.96 264.45,202.47" fill="#4332ca" stroke="#000081"/>
<polygon points="264.45,202.47 284.68,196.96 291.57,197.91 271.32,203.55" fill="#4332ca" stroke="#000081"/>
<polygon points="271.32,203.55 291.57,197.91 298.41,198.78 278.15,204.57" fill="#4332ca" stroke="#000081"/>
<polygon points="278.15,204.57 298.41,198.78 305.21,199.58 284.93,205.52" fill="#4332ca" stroke="#000081"/>
<polygon points="284.93,205.52 305.21,199.58 311.98,200.37 291.68,206.45" fill="#4332cb" stroke="#000082"/>
<polygon points="291.68,206.45 311.98,200.37 318.69,201.13 298.37,207.36" fill="#4433cb" stroke="#000082"/>
<polygon points="298.37,207.36 318.69,201.13 325.37,201.86 305.03,208.24" fill="#4433cc" stroke="#000082"/>
<polygon points="64.60,148.40 86.65,145.10 94.55,149.29 72.60,152.56" fill="#3a74fe" stroke="#00028c"/>
<polygon points="72.60,152.56 94.55,149.29 102.41,153.36 80.56,156.61" fill="#406dfe" stroke="#00008e"/>
<polygon points="80.56,156.61 102.41,153.36 110.23,157.43 88.47,160.66" fill="#4466fd" stroke="#000090"/>
<polygon points="88.47,160.66 110.23,157.43 118.00,161.32 96.34,164.54" fill="#465ffb" stroke="#000092"/>
<polygon points="96.34,164.54 118.00,161.32 125.73,164.74 104.16,167.94" fill="#475af9" stroke="#000092"/>
<polygon points="104.16,167.94 125.73,164.74 133.42,167.81 111.94,171.01" fill="#4755f6" stroke="#000093"/>
<polygon points="111.94,171.01 133.42,167.81 141.06,170.71 119.67,173.91" fill="#4851f3" stroke="#000092"/>
<polygon points="119.67,173.91 141.06,170.71 148.66,173.52 127.36,176.73" fill="#484df0" stroke="#000092"/>
<polygon points="127.36,176.73 148.66,173.52 156.22,176.21 135.01,179.42" fill="#4849ed" stroke="#000092"/>
<polygon points="135.01,179.42 156.22,176.21 163.74,178.72 142.61,181.95" fill="#4746ea" stroke="#000091"/>
<polygon points="142.61,181.95 163.74,178.72 171.21,181.08 150.17,184.33" fill="#4742e6" stroke="#000090"/>
<polygon points="150.17,184.33 171.21,181.08 178.64,183.32 157.68,186.60" fill="#473fe3" stroke="#00008f"/>
<polygon points="157.68,186.60 178.64,183.32 186.03,185.48 165.15,188.79" fill="#463de0" stroke="#00008d"/>
<polygon points="165.15,188.79 186.03,185.48 193.37,187.57 172.57,190.92" fill="#463adc" stroke="#00008b"/>
<polygon points="172.57,190.92 193.37,187.57 200.67,189.51 179.95,192.91" fill="#4538d8" stroke="#000089"/>
<polygon points="179.95,192.91 200.67,189.51 207.93,191.31 187.28,194.76" fill="#4536d5" stroke="#000088"/>
<polygon points="187.28,194.76 207.93,191.31 215.14,193.00 194.57,196.52" fill="#4435d1" stroke="#000086"/>
<polygon points="194.57,196.52 215.14,193.00 222.32,194.58 201.82,198.16" fill="#4434ce" stroke="#000084"/>
<polygon points="201.82,198.16 222.32,194.58 229.45,196.06 209.02,199.72" fill="#4433cc" stroke="#000082"/>
<polygon points="209.02,199.72 229.45,196.06 236.53,197.47 216.18,201.21" fill="#4332c9" stroke="#000081"/>
<polygon points="216.18,201.21 236.53,197.47 243.58,198.82 223.29,202.64" fill="#4331c7" stroke="#000080"/>
<polygon points="223.29,202.64 243.58,198.82 250.58,200.12 230.36,204.02" fill="#4330c5" stroke="#00007e"/>
<polygon points="230.36,204.02 250.58,200.12 257.53,201.34 237.38,205.33" fill="#4230c4" stroke="#00007d"/>
<polygon points="237.38,205.33 257.53,201.34 264.45,202.47 244.36,206.56" fill="#422fc2" stroke="#00007d"/>
<polygon points="244.36,206.56 264.45,202.47 271.32,203.55 251.29,207.74" fill="#422fc1" stroke="#00007c"/>
<polygon points="251.29,207.74 271.32,203.55 278.15,204.57 258.18,208.87" fill="#422fc1" stroke="#00007b"/>
<polygon points="258.18,208.87 278.15,204.57 284.93,205.52 265.03,209.94" fill="#422fc0" stroke="#00007b"/>
<polygon points="265.03,209.94 284.93,205.52 291.68,206.45 271.83,210.98" fill="#422fc0" stroke="#00007b"/>
<polygon points="271.83,210.98 291.68,206.45 298.37,207.36 278.59,212.01" fill="#422ec0" stroke="#00007b"/>
<polygon points="278.59,212.01 298.37,207.36 305.03,208.24 285.30,213.00" fill="#422ec0" stroke="#00007b"/>
</g>
<line x1="64.60" y1="209.30" x2="59.83" y2="209.87" stroke="#a8a8a8" stroke-width="0.80"/>
<text x="55.2" y="211.5" font-size="10" text-anchor="end">0.005</text>
<line x1="64.60" y1="174.16" x2="59.83" y2="174.73" stroke="#a8a8a8" stroke-width="0.80"/>
<text x="55.2" y="177.4" font-size="10" text-anchor="end">0.01</text>
<line x1="64.60" y1="139.02" x2="59.83" y2="139.59" stroke="#a8a8a8" stroke-width="0.80"/>
<text x="55.2" y="142.2" font-size="10" text-anchor="end">0.015</text>
<line x1="64.60" y1="103.88" x2="59.83" y2="104.45" stroke="#a8a8a8" stroke-width="0.80"/>
<text x="55.2" y="107.1" font-size="10" text-anchor="end">0.02</text>
<line x1="64.60" y1="68.74" x2="59.83" y2="69.31" stroke="#a8a8a8" stroke-width="0.80"/>
<text x="55.2" y="71.9" font-size="10" text-anchor="end">0.025</text>
<line x1="64.60" y1="33.60" x2="59.83" y2="34.17" stroke="#a8a8a8" stroke-width="0.80"/>
<text x="55.2" y="36.8" font-size="10" text-anchor="end">0.03</text>
<text x="55.2" y="220.1" font-size="10" text-anchor="end">0.5</text>
<line x1="101.38" y1="214.67" x2="96.91" y2="215.20" stroke="#a8a8a8" stroke-width="0.80"/>
<text x="92.0" y="225.5" font-size="10" text-anchor="end">0.45</text>
<line x1="138.17" y1="220.03" x2="133.70" y2="220.57" stroke="#a8a8a8" stroke-width="0.80"/>
<text x="128.8" y="230.8" font-size="10" text-anchor="end">0.4</text>
<line x1="174.95" y1="225.40" x2="170.48" y2="225.93" stroke="#a8a8a8" stroke-width="0.80"/>
<text x="165.5" y="236.2" font-size="10" text-anchor="end">0.35</text>
<line x1="211.73" y1="230.77" x2="207.26" y2="231.30" stroke="#a8a8a8" stroke-width="0.80"/>
<text x="202.3" y="241.6" font-size="10" text-anchor="end">0.3</text>
<line x1="248.52" y1="236.13" x2="244.05" y2="236.67" stroke="#a8a8a8" stroke-width="0.80"/>
<text x="239.1" y="246.9" font-size="10" text-anchor="end">0.25</text>
<line x1="285.30" y1="241.50" x2="280.83" y2="242.03" stroke="#a8a8a8" stroke-width="0.80"/>
<text x="275.9" y="252.3" font-size="10" text-anchor="end">0.2</text>
<line x1="285.30" y1="241.50" x2="289.75" y2="242.15" stroke="#a8a8a8" stroke-width="0.80"/>
<text x="294.8" y="253.0" font-size="10" text-anchor="start">10</text>
<line x1="325.98" y1="236.65" x2="330.44" y2="237.30" stroke="#a8a8a8" stroke-width="0.80"/>
<text x="335.5" y="248.2" font-size="10" text-anchor="start">20</text>
<line x1="366.67" y1="231.80" x2="371.12" y2="232.45" stroke="#a8a8a8" stroke-width="0.80"/>
<text x="376.2" y="243.3" font-size="10" text-anchor="start">30</text>
<line x1="407.35" y1="226.95" x2="411.80" y2="227.60" stroke="#a8a8a8" stroke-width="0.80"/>
<text x="416.9" y="238.4" font-size="10" text-anchor="start">40</text>
<line x1="448.03" y1="222.10" x2="452.49" y2="222.75" stroke="#a8a8a8" stroke-width="0.80"/>
<text x="457.5" y="233.6" font-size="10" text-anchor="start">50</text>
<line x1="488.72" y1="217.25" x2="493.17" y2="217.90" stroke="#a8a8a8" stroke-width="0.80"/>
<text x="498.2" y="228.8" font-size="10" text-anchor="start">60</text>
<line x1="529.40" y1="212.40" x2="533.85" y2="213.05" stroke="#a8a8a8" stroke-width="0.80"/>
<text x="538.9" y="223.9" font-size="10" text-anchor="start">70</text>
<text x="312.6" y="275" font-size="19.5" letter-spacing="0.26" style="stroke-width:0.18px">camber angle (degree)</text>
<text x="155.8" y="270.9" font-size="19.5" style="stroke-width:0.18px">M<tspan font-size="15" dy="9.3" dx="0.8">rel</tspan></text>
<text transform="translate(17.6,144.2) rotate(-90)" font-size="20" style="stroke-width:0.18px"><tspan font-style="italic" style="font-weight:normal;stroke-width:0.4px">θ</tspan><tspan font-size="15.6" dy="9.9" dx="0.4">TE</tspan><tspan dy="-9.9" dx="0.9">/c</tspan></text>
</svg></body></html>
